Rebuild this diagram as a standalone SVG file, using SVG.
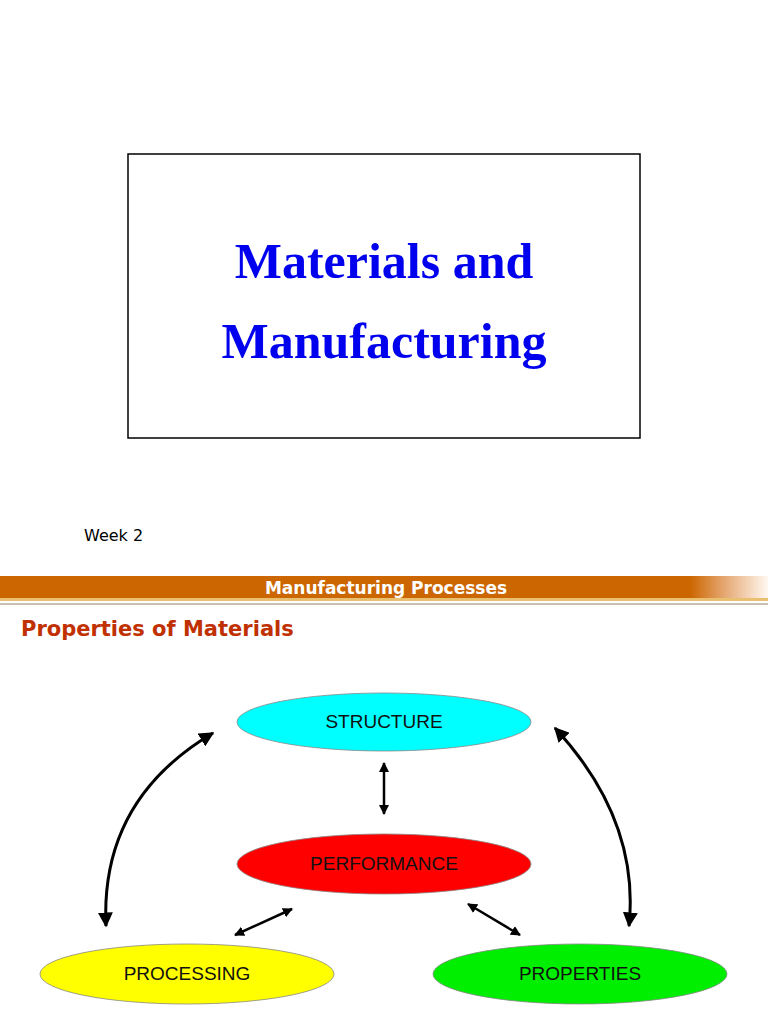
<svg xmlns="http://www.w3.org/2000/svg" width="768" height="1024" viewBox="0 0 768 1024">
<defs>
<marker id="ah" viewBox="0 0 10 10" refX="9" refY="5" markerWidth="5" markerHeight="5" orient="auto-start-reverse"><path d="M0,0 L10,5 L0,10 Z" fill="#000"/></marker>
<marker id="sh" viewBox="0 0 10 10" refX="9" refY="5" markerWidth="4" markerHeight="4" orient="auto-start-reverse"><path d="M0,0 L10,5 L0,10 Z" fill="#000"/></marker>
<linearGradient id="fade" x1="0" x2="1"><stop offset="0" stop-color="#cc6600"/><stop offset="0.5" stop-color="#e8b080"/><stop offset="1" stop-color="#fff8f0"/></linearGradient>
</defs>
<style>
.lbl{font-family:"Liberation Sans",Arial,sans-serif;font-size:19px;fill:#111;text-anchor:middle}
.ell{stroke:#888;stroke-width:0.8}
.con{fill:none;stroke:#000;stroke-width:3}
.con2{fill:none;stroke:#000;stroke-width:2.5}
</style>
<rect width="768" height="1024" fill="#fff"/>
<g id="title">
<rect x="128" y="154" width="512" height="284" fill="#fff" stroke="#000" stroke-width="1.5"/>
<text x="384" y="278" font-family="Liberation Serif,serif" font-size="50" font-weight="bold" fill="#0000ee" text-anchor="middle">Materials and</text>
<text x="384" y="358" font-family="Liberation Serif,serif" font-size="50" font-weight="bold" fill="#0000ee" text-anchor="middle">Manufacturing</text>
</g>
<text x="84" y="541" font-family="DejaVu Sans,sans-serif" font-size="16" fill="#000">Week 2</text>
<g id="banner">
<rect x="0" y="576" width="768" height="22" fill="#cc6600"/>
<rect x="690" y="576" width="78" height="22" fill="url(#fade)"/>
<rect x="0" y="598" width="768" height="3" fill="#e8c070"/>
<rect x="0" y="603" width="768" height="2" fill="#c8c0b0"/>
<text x="386" y="594" font-family="DejaVu Sans,sans-serif" font-size="17" font-weight="bold" fill="#fff" text-anchor="middle">Manufacturing Processes</text>
<text x="21" y="636" font-family="DejaVu Sans,sans-serif" font-size="21" font-weight="bold" fill="#c03000" transform="scale(1 1)">Properties of Materials</text>
</g>
<g id="structure"><ellipse class="ell" cx="384" cy="722" rx="147" ry="29" fill="#00ffff"/><text class="lbl" x="384" y="728">STRUCTURE</text></g>
<g id="performance"><ellipse class="ell" cx="384" cy="864" rx="147" ry="30" fill="#ff0000"/><text class="lbl" x="384" y="870">PERFORMANCE</text></g>
<g id="processing"><ellipse class="ell" cx="187" cy="974" rx="147" ry="30" fill="#ffff00"/><text class="lbl" x="187" y="980">PROCESSING</text></g>
<g id="properties"><ellipse class="ell" cx="580" cy="974" rx="147" ry="30" fill="#00ee00"/><text class="lbl" x="580" y="980">PROPERTIES</text></g>
<g id="connectors">
<path class="con" d="M213,733 Q100,800 106,926" marker-start="url(#ah)" marker-end="url(#ah)"/>
<path class="con" d="M555,728 Q640,820 629,926" marker-start="url(#ah)" marker-end="url(#ah)"/>
<path class="con2" d="M384,763 L384,814" marker-start="url(#sh)" marker-end="url(#sh)"/>
<path class="con2" d="M292,909 L235,935" marker-start="url(#sh)" marker-end="url(#sh)"/>
<path class="con2" d="M468,904 L520,935" marker-start="url(#sh)" marker-end="url(#sh)"/>
</g>
</svg>
